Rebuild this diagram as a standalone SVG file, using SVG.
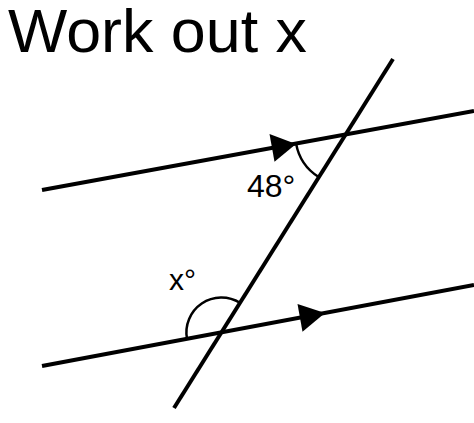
<svg xmlns="http://www.w3.org/2000/svg" width="474" height="423" viewBox="0 0 474 423">
<style>
.ln{stroke:#000;stroke-width:4;fill:none;stroke-linecap:butt}
.arc{stroke:#000;stroke-width:2.5;fill:none}
.ah{fill:#000;stroke:none}
text{font-family:"Liberation Sans",Arial,sans-serif;fill:#000}
</style>
<rect width="474" height="423" fill="#fff"/>
<g id="title"><text x="8" y="52" font-size="62" textLength="299" lengthAdjust="spacingAndGlyphs">Work out x</text></g>
<g id="connectors">
<line class="ln" x1="42" y1="190" x2="474" y2="111"/>
<line class="ln" x1="42" y1="366" x2="474" y2="285"/>
<line class="ln" x1="393" y1="59" x2="174" y2="408"/>
<polygon class="ah" points="296,144 269.5,134 274.5,161.8"/>
<polygon class="ah" points="325,313 297.5,304 302.5,331.8"/>
</g>
<g id="angle48">
<path class="arc" d="M296.1,143.6 A50,50 0 0 0 318.7,177"/>
<text x="247" y="197" font-size="32">48°</text>
</g>
<g id="anglex">
<path class="arc" d="M187,338.8 A35,35 0 0 1 240,302.8"/>
<text x="169" y="290" font-size="30">x°</text>
</g>
</svg>
